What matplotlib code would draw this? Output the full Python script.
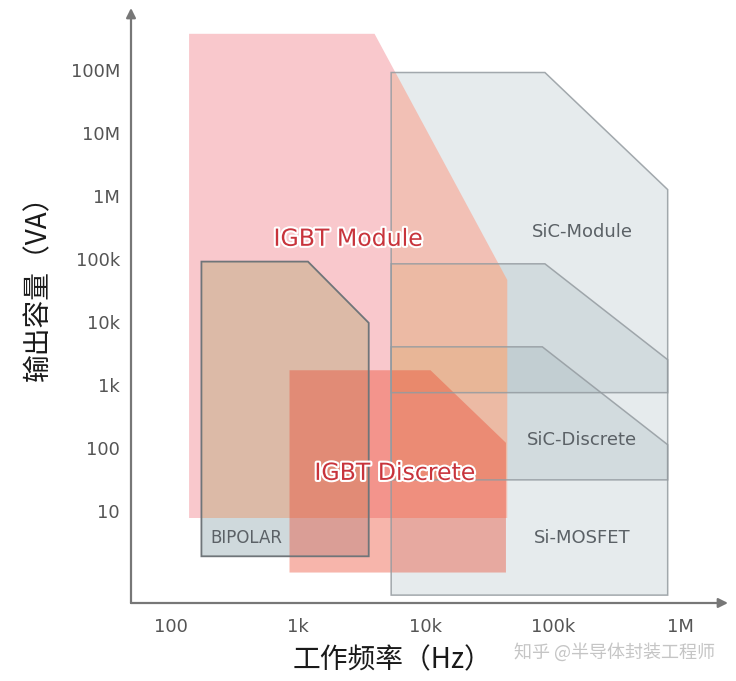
import matplotlib
matplotlib.use('Agg')
import matplotlib.pyplot as plt
from matplotlib.patches import Polygon
import matplotlib.patheffects as pe
import numpy as np

# frequency (Hz) / output capacity (VA) outlines
igbt_mod_f = [140, 140, 4000, 44000, 44000]
igbt_mod_va = [7.7, 3.7e8, 3.7e8, 4.6e4, 7.7]

bipolar_f = [175, 175, 1200, 3600, 3600]
bipolar_va = [1.9, 9e4, 9e4, 9.6e3, 1.9]

igbt_dis_f = [860, 860, 11000, 43000, 43000]
igbt_dis_va = [1.05, 1700, 1700, 120, 1.05]

sic_mod_f = [5400, 5400, 87000, 8e5, 8e5]
sic_mod_va = [750, 9e7, 9e7, 1.25e6, 750]

sic_dis_f = [5400, 5400, 87000, 8e5, 8e5]
sic_dis_va = [31, 8.3e4, 8.3e4, 2500, 31]

mosfet_f = [5400, 5400, 83000, 8e5, 8e5]
mosfet_va = [0.46, 4000, 4000, 112, 0.46]

xticks = [100, 1e3, 1e4, 1e5, 1e6]
xticklabels = ['100', '1k', '10k', '100k', '1M']
yticks = [10, 100, 1e3, 1e4, 1e5, 1e6, 1e7, 1e8]
yticklabels = ['10', '100', '1k', '10k', '100k', '1M', '10M', '100M']

W, H = 736, 681
fig = plt.figure(figsize=(W / 100, H / 100), dpi=100)
ax = fig.add_axes([131 / W, 1 - 603 / H, (728 - 131) / W, (603 - 8) / H])
ax.set_xscale('log')
ax.set_yscale('log')
ax.set_xlim(49, 2.38e6)
ax.set_ylim(0.345, 9.5e8)

def poly(f, va, **kw):
    p = Polygon(np.column_stack([f, va]), closed=True, **kw)
    ax.add_patch(p)
    return p

grey = (130 / 255, 155 / 255, 165 / 255)
edge = '#949ba0'

# grey device areas, underneath
for f, va in ((sic_mod_f, sic_mod_va), (sic_dis_f, sic_dis_va), (mosfet_f, mosfet_va)):
    poly(f, va, facecolor=grey, alpha=0.2, edgecolor='none', zorder=1)
poly(bipolar_f, bipolar_va, facecolor=grey, alpha=0.38, edgecolor='none', zorder=1)

# IGBT module (pink)
mod = poly(igbt_mod_f, igbt_mod_va, facecolor='#f9c8cc', edgecolor='none', zorder=2)

# overlap tints inside the IGBT module
for f, va in ((sic_mod_f, sic_mod_va), (sic_dis_f, sic_dis_va), (mosfet_f, mosfet_va)):
    p = poly(f, va, facecolor=(220 / 255, 170 / 255, 110 / 255), alpha=0.24,
             edgecolor='none', zorder=3)
    p.set_clip_path(mod)
p = poly(bipolar_f, bipolar_va, facecolor=(185 / 255, 169 / 255, 124 / 255), alpha=0.45,
         edgecolor='none', zorder=3)
p.set_clip_path(mod)

# IGBT discrete (orange/red)
poly(igbt_dis_f, igbt_dis_va, facecolor=(235 / 255, 70 / 255, 45 / 255), alpha=0.4,
     edgecolor='none', zorder=4)

# outlines
for f, va in ((sic_mod_f, sic_mod_va), (sic_dis_f, sic_dis_va), (mosfet_f, mosfet_va)):
    poly(f, va, fill=False, edgecolor=edge, lw=1.1, alpha=0.85, zorder=5)
poly(bipolar_f, bipolar_va, fill=False, edgecolor='#6f7579', lw=1.3, zorder=5)

halo = [pe.withStroke(linewidth=3, foreground='white')]
red = '#c8343c'
ax.text(2490, 2.07e5, 'IGBT Module', color=red, fontsize=17, ha='center', va='center',
        zorder=6, path_effects=halo)
ax.text(5820, 40, 'IGBT Discrete', color=red, fontsize=17, ha='center', va='center',
        zorder=6, path_effects=halo)
gtxt = '#5b6166'
ax.text(395, 3.7, 'BIPOLAR', color=gtxt, fontsize=12, ha='center', va='center', zorder=6)
ax.text(1.7e5, 2.7e5, 'SiC-Module', color=gtxt, fontsize=13, ha='center', va='center', zorder=6)
ax.text(1.7e5, 134, 'SiC-Discrete', color=gtxt, fontsize=13, ha='center', va='center', zorder=6)
ax.text(1.7e5, 3.7, 'Si-MOSFET', color=gtxt, fontsize=13, ha='center', va='center', zorder=6)

ax.set_xticks(xticks)
ax.set_xticklabels(xticklabels)
ax.set_yticks(yticks)
ax.set_yticklabels(yticklabels)
ax.minorticks_off()
ax.tick_params(axis='both', length=0, labelsize=13, labelcolor='#555555')
ax.tick_params(axis='x', pad=11)
ax.tick_params(axis='y', pad=8)

for s in ax.spines.values():
    s.set_visible(False)
ax.patch.set_alpha(0)
arrow = dict(arrowstyle='-|>', color='#777777', lw=1.6, mutation_scale=14, shrinkA=0, shrinkB=0)
ax.annotate('', xy=(1, 0), xytext=(0, 0), xycoords='axes fraction', arrowprops=arrow)
ax.annotate('', xy=(0, 1), xytext=(0, 0), xycoords='axes fraction', arrowprops=arrow)

cjk = ['Noto Sans CJK SC', 'DejaVu Sans']
fig.text(38 / W, 1 - 281 / H, '输出容量（VA）', rotation=90, fontsize=20, family=cjk,
         ha='center', va='center', color='#1a1a1a')
fig.text(392 / W, 1 - 660 / H, '工作频率（Hz）', fontsize=20, family=cjk,
         ha='center', va='center', color='#1a1a1a')
fig.text(715 / W, 1 - 652 / H, '知乎 @半导体封装工程师', fontsize=13, family=cjk,
         ha='right', va='center', color='#bfbfbf', alpha=0.9)

fig.savefig('out.png', dpi=100)
